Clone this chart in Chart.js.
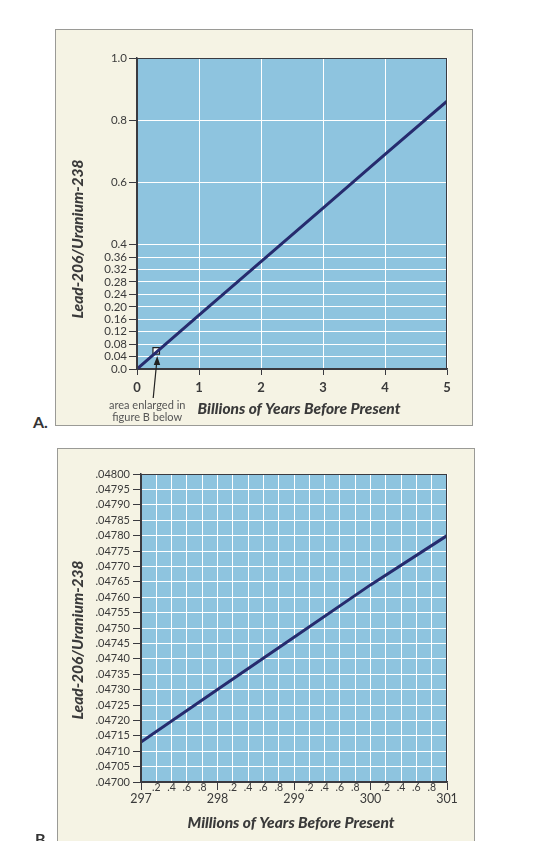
<!DOCTYPE html>
<html>
<head>
<meta charset="utf-8">
<script src="https://cdn.jsdelivr.net/npm/chart.js@4.4.1/dist/chart.umd.min.js"></script>
<style>
  body { margin: 0; background: #fff; width: 548px; height: 841px; overflow: hidden; position: relative; font-family: Lato, sans-serif; }
  .panel { position: absolute; background: #f5f3e4; outline: 1px solid #9a9a96; outline-offset: -1px; }
  .tag { position: absolute; font: bold 16px Lato, sans-serif; color: #333; }
</style>
</head>
<body>
<div class="panel" style="left:55px; top:29px; width:418px; height:397px;"><canvas id="chartA"></canvas></div>
<div class="panel" style="left:57px; top:448px; width:418px; height:400px;"><canvas id="chartB"></canvas></div>
<div class="tag" style="left:33px; top:412px;">A.</div>
<div class="tag" style="left:35px; top:829px;">B</div>
<script>
// figure A: billions of years vs ratio
const yearsA = [0, 1, 2, 3, 4, 5];
const ratioA = [0, 0.173, 0.345, 0.517, 0.69, 0.861];
const markerX = [0.31];
const markerY = [0.058];
const xTicksA = [0, 1, 2, 3, 4, 5];
const yTicksA = [0, 0.04, 0.08, 0.12, 0.16, 0.20, 0.24, 0.28, 0.32, 0.36, 0.4, 0.6, 0.8, 1.0];
const yLabelsA = ['0.0', '0.04', '0.08', '0.12', '0.16', '0.20', '0.24', '0.28', '0.32', '0.36', '0.4', '0.6', '0.8', '1.0'];

// figure B: millions of years vs ratio (enlarged)
const yearsB = [297, 298, 299, 300, 301];
const ratioB = [0.04713, 0.04730, 0.04747, 0.04764, 0.04780];
const xTicksB = [297, 297.2, 297.4, 297.6, 297.8, 298, 298.2, 298.4, 298.6, 298.8, 299,
                 299.2, 299.4, 299.6, 299.8, 300, 300.2, 300.4, 300.6, 300.8, 301];
const xLabelsB = ['297', '.2', '.4', '.6', '.8', '298', '.2', '.4', '.6', '.8', '299',
                  '.2', '.4', '.6', '.8', '300', '.2', '.4', '.6', '.8', '301'];
const yTicksB = [0.04700, 0.04705, 0.04710, 0.04715, 0.04720, 0.04725, 0.04730, 0.04735, 0.04740, 0.04745, 0.04750,
                 0.04755, 0.04760, 0.04765, 0.04770, 0.04775, 0.04780, 0.04785, 0.04790, 0.04795, 0.04800];

const plotBlue = '#8ec4df';
const lineNavy = '#262b6e';
const axisDark = '#3a3a40';
const textDark = '#3a3a3a';

// blue plot background + frame around the plot
const plotFrame = {
  id: 'plotFrame',
  beforeDraw(chart) {
    const a = chart.chartArea, ctx = chart.ctx;
    ctx.save();
    ctx.fillStyle = plotBlue;
    ctx.fillRect(a.left, a.top, a.right - a.left, a.bottom - a.top);
    ctx.restore();
  },
  afterDraw(chart) {
    const a = chart.chartArea, ctx = chart.ctx;
    ctx.save();
    ctx.strokeStyle = axisDark;
    ctx.lineWidth = 1;
    ctx.strokeRect(a.left + 0.5, a.top + 0.5, a.right - a.left - 1, a.bottom - a.top);
    ctx.restore();
  }
};

function drawText(ctx, text, x, y, font, color, rot) {
  ctx.save();
  ctx.translate(x, y);
  if (rot) ctx.rotate(rot);
  ctx.font = font;
  ctx.fillStyle = color;
  ctx.textAlign = 'center';
  ctx.textBaseline = 'middle';
  ctx.fillText(text, 0, 0);
  ctx.restore();
}

const titleFont = 'italic 900 15.5px Lato, sans-serif';

const titlesA = {
  id: 'titlesA',
  afterDraw(chart) {
    const a = chart.chartArea, ctx = chart.ctx;
    drawText(ctx, 'Lead-206/Uranium-238', a.left - 59, a.top + 181, titleFont, textDark, -Math.PI / 2);
    drawText(ctx, 'Billions of Years Before Present', a.left + 162, a.bottom + 40, titleFont, textDark);
    // note and arrow pointing at the enlarged area
    const px = chart.scales.x.getPixelForValue(markerX[0]);
    const py = chart.scales.y.getPixelForValue(markerY[0]);
    drawText(ctx, 'area enlarged in', px - 9, a.bottom + 36, '11px Lato, sans-serif', '#555');
    drawText(ctx, 'figure B below', px - 9, a.bottom + 48, '11px Lato, sans-serif', '#555');
    ctx.save();
    ctx.strokeStyle = '#222';
    ctx.fillStyle = '#222';
    ctx.lineWidth = 1.2;
    ctx.beginPath();
    ctx.moveTo(px - 3, a.bottom + 29);
    ctx.lineTo(px + 0.5, py + 11);
    ctx.stroke();
    ctx.beginPath();
    ctx.moveTo(px + 1, py + 5);
    ctx.lineTo(px - 2.5, py + 14);
    ctx.lineTo(px + 4, py + 14);
    ctx.closePath();
    ctx.fill();
    ctx.restore();
  }
};

const titlesB = {
  id: 'titlesB',
  afterDraw(chart) {
    const a = chart.chartArea, ctx = chart.ctx;
    drawText(ctx, 'Lead-206/Uranium-238', a.left - 63, a.top + 166, titleFont, textDark, -Math.PI / 2);
    drawText(ctx, 'Millions of Years Before Present', a.left + 150, a.bottom + 41, titleFont, textDark);
  }
};

new Chart(document.getElementById('chartA'), {
  type: 'line',
  data: {
    datasets: [{
      data: yearsA.map((x, i) => ({ x: x, y: ratioA[i] })),
      borderColor: lineNavy,
      borderWidth: 3,
      pointRadius: 0
    }, {
      data: markerX.map((x, i) => ({ x: x, y: markerY[i] })),
      showLine: false,
      pointStyle: 'rect',
      pointRadius: 4.6,
      backgroundColor: '#fff',
      borderColor: '#222',
      borderWidth: 1.2
    }]
  },
  options: {
    responsive: true,
    maintainAspectRatio: false,
    animation: false,
    layout: { padding: { left: 0, top: 29, right: 26, bottom: 0 } },
    plugins: { legend: { display: false }, tooltip: { enabled: false } },
    scales: {
      x: {
        type: 'linear', min: 0, max: 5,
        afterBuildTicks: s => { s.ticks = xTicksA.map(v => ({ value: v })); },
        afterFit: s => { s.height = 57; },
        grid: { color: '#ffffff', lineWidth: 1, tickColor: axisDark, tickLength: 6 },
        border: { color: axisDark, width: 1.5 },
        ticks: { color: textDark, padding: 5, autoSkip: false, font: { family: 'Lato', size: 13, weight: 'bold' } }
      },
      y: {
        min: 0, max: 1,
        afterBuildTicks: s => { s.ticks = yTicksA.map(v => ({ value: v })); },
        afterFit: s => { s.width = 82; },
        grid: { color: '#ffffff', lineWidth: 1, tickColor: axisDark, tickLength: 8 },
        border: { color: axisDark, width: 1.5 },
        ticks: {
          color: textDark, padding: 2, autoSkip: false, font: { family: 'Lato', size: 11.5 },
          callback: (v, i) => yLabelsA[i]
        }
      }
    }
  },
  plugins: [plotFrame, titlesA]
});

new Chart(document.getElementById('chartB'), {
  type: 'line',
  data: {
    datasets: [{
      data: yearsB.map((x, i) => ({ x: x, y: ratioB[i] })),
      borderColor: lineNavy,
      borderWidth: 3,
      pointRadius: 0
    }]
  },
  options: {
    responsive: true,
    maintainAspectRatio: false,
    animation: false,
    layout: { padding: { left: 0, top: 26, right: 28, bottom: 0 } },
    plugins: { legend: { display: false }, tooltip: { enabled: false } },
    scales: {
      x: {
        type: 'linear', min: 297, max: 301,
        afterBuildTicks: s => { s.ticks = xTicksB.map(v => ({ value: v })); },
        afterFit: s => { s.height = 66; },
        grid: {
          color: '#ffffff', lineWidth: 1, tickLength: 8,
          tickColor: c => (xLabelsB[c.index] || '').indexOf('.') < 0 ? axisDark : 'rgba(0,0,0,0)'
        },
        border: { color: axisDark, width: 1.5 },
        ticks: {
          color: textDark, padding: -7.5, maxRotation: 0, autoSkip: false,
          font: c => (xLabelsB[c.index] || '').indexOf('.') < 0
            ? { family: 'Lato', size: 12.5, lineHeight: '11px' }
            : { family: 'Lato', size: 10.5, lineHeight: '11px' },
          callback: (v, i) => xLabelsB[i].indexOf('.') < 0 ? ['', xLabelsB[i]] : [xLabelsB[i]]
        }
      },
      y: {
        min: 0.047, max: 0.048,
        afterBuildTicks: s => { s.ticks = yTicksB.map(v => ({ value: v })); },
        afterFit: s => { s.width = 84; },
        grid: { color: '#ffffff', lineWidth: 1, tickColor: axisDark, tickLength: 8 },
        border: { color: axisDark, width: 1.5 },
        ticks: {
          color: textDark, padding: 3, autoSkip: false, font: { family: 'Lato', size: 11 },
          callback: (v, i) => yTicksB[i].toFixed(5).slice(1)
        }
      }
    }
  },
  plugins: [plotFrame, titlesB]
});
</script>
</body>
</html>
